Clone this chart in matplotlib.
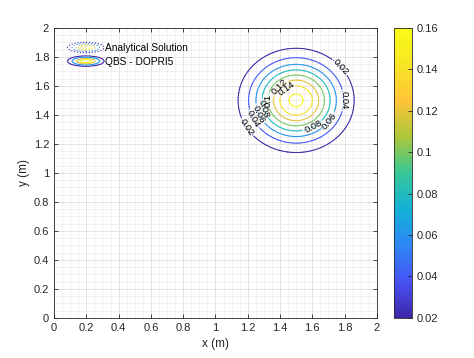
import numpy as np
import matplotlib
matplotlib.use('Agg')
import matplotlib.pyplot as plt
from matplotlib.colors import LinearSegmentedColormap
from matplotlib.legend_handler import HandlerBase
from matplotlib.patches import Ellipse
from matplotlib.lines import Line2D
from matplotlib.ticker import MultipleLocator, FormatStrFormatter

plt.rcParams['font.family'] = ['Liberation Sans', 'DejaVu Sans']

# gaussian hill
x_center = 1.5
y_center = 1.5
peak = 0.165
sigma = 0.175
levels = [0.02, 0.04, 0.06, 0.08, 0.10, 0.12, 0.14, 0.16]
cbar_ticks = [0.02, 0.04, 0.06, 0.08, 0.10, 0.12, 0.14, 0.16]
axis_ticks = [0, 0.2, 0.4, 0.6, 0.8, 1.0, 1.2, 1.4, 1.6, 1.8, 2.0]
labels_legend = ['Analytical Solution', 'QBS - DOPRI5']
# where the inline labels sit: (level, angle in degrees around the centre)
label_spots = [(0.02, 40), (0.02, 211), (0.04, 0), (0.04, 206), (0.06, 202), (0.06, 325),
               (0.08, 300), (0.08, 196), (0.10, 180), (0.12, 137), (0.14, 128)]

# parula-like colormap
parula_pts = [(0.2422, 0.1504, 0.6603), (0.2810, 0.3228, 0.9579), (0.1786, 0.5289, 0.9682),
              (0.0689, 0.6948, 0.8394), (0.2161, 0.7843, 0.5923), (0.6720, 0.7793, 0.2227),
              (0.9970, 0.7659, 0.2199), (0.9657, 0.9028, 0.1451), (0.9769, 0.9839, 0.0805)]
cmap = LinearSegmentedColormap.from_list('parula', parula_pts)

xg = np.linspace(0, 2, 401)
yg = np.linspace(0, 2, 401)
X, Y = np.meshgrid(xg, yg)
Z_exact = peak*np.exp(-((X-x_center)**2+(Y-y_center)**2)/(2*sigma**2))
Z_num = Z_exact.copy()


class ContourHandler(HandlerBase):
    def __init__(self, ls):
        super().__init__()
        self.ls = ls

    def create_artists(self, legend, orig_handle, xdescent, ydescent, width, height, fontsize, trans):
        cx = width/2-xdescent
        cy = height/2-ydescent
        out = []
        fracs = [1.0, 0.75, 0.5, 0.3]
        vals = [0.0, 0.3, 0.7, 0.95]
        for f, v in zip(fracs, vals):
            e = Ellipse((cx, cy), width*f, height*f, fill=False, edgecolor=cmap(v),
                        linestyle=self.ls, lw=0.8, transform=trans)
            out.append(e)
        return out


fig = plt.figure(figsize=(4.74, 3.58), dpi=100)
ax = fig.add_axes([0.114, 0.112, 0.681, 0.810])
cax = fig.add_axes([0.831, 0.112, 0.038, 0.810])

ax.contour(X, Y, Z_exact, levels=levels, cmap=cmap, vmin=0.02, vmax=0.16,
           linestyles=':', linewidths=0.7)
cs = ax.contour(X, Y, Z_num, levels=levels, cmap=cmap, vmin=0.02, vmax=0.16,
                linewidths=0.7)
label_pos = []
for lev, ang in label_spots:
    r = sigma*np.sqrt(2*np.log(peak/lev))
    label_pos.append((x_center+r*np.cos(np.radians(ang)), y_center+r*np.sin(np.radians(ang))))
ax.clabel(cs, fmt='%g', fontsize=6.8, colors='k', manual=label_pos, inline=True, inline_spacing=2)

ax.set_xlim(0, 2)
ax.set_ylim(0, 2)
ax.set_xticks(axis_ticks)
ax.set_yticks(axis_ticks)
ax.xaxis.set_major_formatter(FormatStrFormatter('%g'))
ax.yaxis.set_major_formatter(FormatStrFormatter('%g'))
ax.xaxis.set_minor_locator(MultipleLocator(0.05))
ax.yaxis.set_minor_locator(MultipleLocator(0.05))
ax.grid(which='major', color='0.85', lw=0.5)
ax.grid(which='minor', color='0.9', lw=0.4)
ax.set_axisbelow(True)
ax.tick_params(which='major', direction='in', top=True, right=True, length=3,
               labelsize=8, colors='0.15', width=0.6)
ax.tick_params(which='minor', length=0, top=True, right=True)
for s in ax.spines.values():
    s.set_color('0.15')
    s.set_linewidth(0.6)
ax.set_xlabel('x (m)', fontsize=8.5, color='0.15', labelpad=4)
ax.set_ylabel('y (m)', fontsize=8.5, color='0.15', labelpad=3)

h1 = Line2D([], [])
h2 = Line2D([], [])
ax.legend([h1, h2], labels_legend, loc='upper left', frameon=False, fontsize=7.3,
          handler_map={h1: ContourHandler(':'), h2: ContourHandler('-')},
          handlelength=3.6, handleheight=1.2, handletextpad=0.1, labelspacing=0.3,
          borderaxespad=0.3, bbox_to_anchor=(0.02, 0.975))

sm = plt.cm.ScalarMappable(cmap=cmap, norm=plt.Normalize(0.02, 0.16))
cb = fig.colorbar(sm, cax=cax, ticks=cbar_ticks, format='%g')
cb.ax.tick_params(direction='in', length=3, labelsize=8, colors='0.15', width=0.6)
cb.outline.set_edgecolor('0.15')
cb.outline.set_linewidth(0.6)

fig.savefig('out.png', dpi=100)
